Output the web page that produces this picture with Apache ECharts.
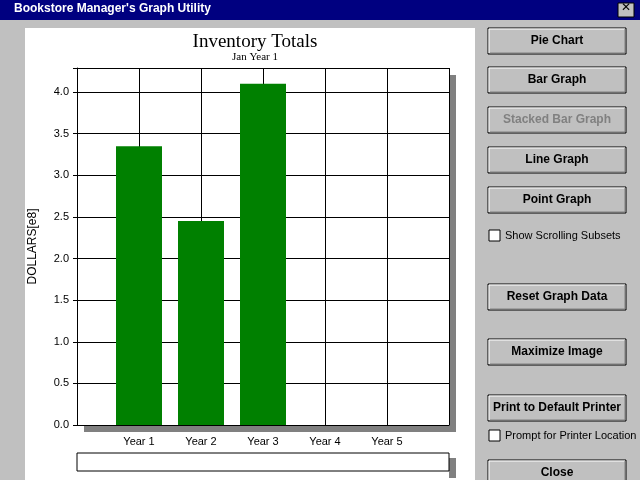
<!DOCTYPE html>
<html><head><meta charset="utf-8">
<script src="https://cdn.jsdelivr.net/npm/echarts@6/dist/echarts.min.js"></script>
<style>html,body{margin:0;padding:0;background:#c0c0c0}#c{width:640px;height:480px}</style>
</head><body><div id="c"></div>
<script>
const categories = ['Year 1','Year 2','Year 3','Year 4','Year 5'];
const values = [3.35, 2.45, 4.1, null, null];
const tableLabels = ['3','2','4','',''];
const yTicks = [0,0.5,1,1.5,2,2.5,3,3.5,4];

const chart = echarts.init(document.getElementById('c'));
const g = [];
g.push({type:'rect',shape:{x:0,y:0,width:640,height:20},style:{fill:'#000080'},z:0});
g.push({type:'text',left:14,top:3,style:{text:"Bookstore Manager's Graph Utility",fill:'#fff',font:'bold 12px "Liberation Sans", Arial'}});
g.push({type:'rect',shape:{x:618,y:3,width:16,height:14},style:{fill:'#c0c0c0',stroke:'#000'}});
g.push({type:'text',left:621,top:2,style:{text:'✕',fill:'#000',font:'bold 12px "DejaVu Sans"'}});
g.push({type:'rect',shape:{x:25,y:28,width:450,height:460},style:{fill:'#fff'},z:-1});
g.push({type:'rect',shape:{x:84,y:75,width:372,height:357},style:{fill:'#808080'},z:-1});
g.push({type:'rect',shape:{x:77,y:453,width:372,height:18},style:{fill:'#fff',stroke:'#000'},z:1});
g.push({type:'rect',shape:{x:449,y:458,width:7,height:20},style:{fill:'#808080'},z:0});
g.push({type:'rect',shape:{x:77,y:68,width:372,height:357},style:{fill:'#fff'},z:-1,silent:true});
const btns=[['Pie Chart',28,false],['Bar Graph',67,false],['Stacked Bar Graph',107,true],['Line Graph',147,false],['Point Graph',187,false],['Reset Graph Data',284,false],['Maximize Image',339,false],['Print to Default Printer',395,false],['Close',460,false]];
btns.forEach(([t,y,dis])=>{
  g.push({type:'rect',shape:{x:488,y:y,width:138,height:26},style:{fill:'#c0c0c0',stroke:'#000',lineWidth:1}});
  g.push({type:'polyline',shape:{points:[[489,y+25],[489,y+1],[625,y+1]]},style:{stroke:'#fff',fill:null}});
  g.push({type:'polyline',shape:{points:[[490,y+25],[625,y+25],[625,y+1]]},style:{stroke:'#808080',fill:null}});
  g.push({type:'text',x:557,y:y+13,style:{text:t,fill:dis?'#808080':'#000',font:'bold 12px "Liberation Sans", Arial',align:'center',verticalAlign:'middle'}});
});
[['Show Scrolling Subsets',236],['Prompt for Printer Location',436]].forEach(([t,y])=>{
  g.push({type:'rect',shape:{x:489,y:y-6,width:11,height:11},style:{fill:'#fff',stroke:'#000'}});
  g.push({type:'text',x:505,y:y,style:{text:t,fill:'#000',font:'11px "Liberation Sans", Arial',verticalAlign:'middle'}});
});

const barData = values.map((v,i)=>[i+1,v]);
const tblData = tableLabels.map((t,i)=>[i+1,0]);

chart.setOption({
  animation:false,
  title:{text:'Inventory Totals',subtext:'Jan Year 1',left:250,textAlign:'center',top:28,itemGap:0,
    textStyle:{fontFamily:'Liberation Serif',fontSize:19,fontWeight:'normal',color:'#000'},
    subtextStyle:{fontFamily:'Liberation Serif',fontSize:11,color:'#000'}},
  graphic:g,
  grid:[{left:77,top:68,width:372,height:357},{left:77,top:453,width:372,height:18}],
  xAxis:[{type:'value',gridIndex:0,min:0,max:6,interval:1,
    axisLine:{lineStyle:{color:'#000'}},axisTick:{show:false},
    axisLabel:{color:'#000',fontFamily:'Liberation Sans',fontSize:11,margin:11,showMinLabel:false,showMaxLabel:false,
      formatter:v=>categories[v-1]||''},
    splitLine:{show:true,lineStyle:{color:'#000'}}},
   {type:'value',gridIndex:1,min:0,max:6,interval:1,axisLine:{show:false},axisTick:{show:false},splitLine:{show:false},
    axisLabel:{color:'#000',fontSize:11,fontFamily:'Liberation Sans',inside:true,margin:4,showMinLabel:false,showMaxLabel:false,
      formatter:v=>tableLabels[v-1]||''}}],
  yAxis:[{type:'value',gridIndex:0,min:0,max:4.29,interval:0.5,
    name:'DOLLARS[e8]',nameLocation:'middle',nameGap:38,nameTextStyle:{color:'#000',fontSize:12,fontFamily:'Liberation Sans'},
    axisLine:{show:true,lineStyle:{color:'#000'}},axisTick:{show:true,length:4,inside:false,lineStyle:{color:'#000'}},
    axisLabel:{color:'#000',fontFamily:'Liberation Sans',fontSize:11,margin:8,formatter:v=>yTicks.includes(+v.toFixed(1))?v.toFixed(1):''},
    splitLine:{lineStyle:{color:'#000'}}},
   {type:'value',gridIndex:1,min:0,max:1,show:false}],
  series:[{type:'bar',data:barData,barWidth:46,itemStyle:{color:'#008000'},xAxisIndex:0,yAxisIndex:0},
    {type:'scatter',data:tblData,symbolSize:0,xAxisIndex:1,yAxisIndex:1,silent:true}]
});
</script></body></html>
